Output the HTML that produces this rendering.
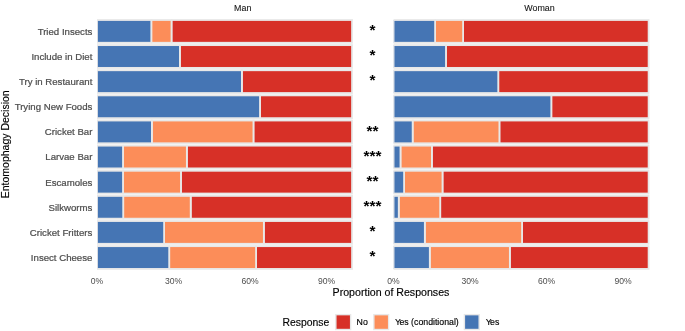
<!DOCTYPE html><html><head><meta charset="utf-8"><title>Entomophagy Decision</title><style>html,body{margin:0;padding:0;background:#fff}svg{display:block}text{font-family:"Liberation Sans",Arial,Helvetica,sans-serif;paint-order:stroke fill;stroke-linejoin:round}</style></head><body>
<svg width="685" height="331" viewBox="0 0 685 331">
<rect width="685" height="331" fill="#fff"/>
<defs><clipPath id="cl"><rect x="97.0" y="0" width="400" height="331"/></clipPath><clipPath id="cr"><rect x="393.55" y="0" width="400" height="331"/></clipPath></defs>
<g clip-path="url(#cl)" stroke="#E8E8E8" stroke-width="1.8">
<rect x="97.0" y="20.0" width="255.05" height="248.92" fill="#FAFAFA" stroke="none"/>
<rect x="171.50" y="20.00" width="180.55" height="22.75" fill="#D73027"/>
<rect x="151.30" y="20.00" width="20.20" height="22.75" fill="#FC8D59"/>
<rect x="97.00" y="20.00" width="54.30" height="22.75" fill="#4575B4"/>
<rect x="179.90" y="45.13" width="172.15" height="22.75" fill="#D73027"/>
<rect x="97.00" y="45.13" width="82.90" height="22.75" fill="#4575B4"/>
<rect x="241.90" y="70.26" width="110.15" height="22.75" fill="#D73027"/>
<rect x="97.00" y="70.26" width="144.90" height="22.75" fill="#4575B4"/>
<rect x="260.00" y="95.39" width="92.05" height="22.75" fill="#D73027"/>
<rect x="97.00" y="95.39" width="163.00" height="22.75" fill="#4575B4"/>
<rect x="253.45" y="120.52" width="98.60" height="22.75" fill="#D73027"/>
<rect x="151.90" y="120.52" width="101.55" height="22.75" fill="#FC8D59"/>
<rect x="97.00" y="120.52" width="54.90" height="22.75" fill="#4575B4"/>
<rect x="186.85" y="145.65" width="165.20" height="22.75" fill="#D73027"/>
<rect x="123.00" y="145.65" width="63.85" height="22.75" fill="#FC8D59"/>
<rect x="97.00" y="145.65" width="26.00" height="22.75" fill="#4575B4"/>
<rect x="180.95" y="170.78" width="171.10" height="22.75" fill="#D73027"/>
<rect x="123.00" y="170.78" width="57.95" height="22.75" fill="#FC8D59"/>
<rect x="97.00" y="170.78" width="26.00" height="22.75" fill="#4575B4"/>
<rect x="190.70" y="195.91" width="161.35" height="22.75" fill="#D73027"/>
<rect x="123.20" y="195.91" width="67.50" height="22.75" fill="#FC8D59"/>
<rect x="97.00" y="195.91" width="26.20" height="22.75" fill="#4575B4"/>
<rect x="263.85" y="221.04" width="88.20" height="22.75" fill="#D73027"/>
<rect x="164.10" y="221.04" width="99.75" height="22.75" fill="#FC8D59"/>
<rect x="97.00" y="221.04" width="67.10" height="22.75" fill="#4575B4"/>
<rect x="256.05" y="246.17" width="96.00" height="22.75" fill="#D73027"/>
<rect x="169.20" y="246.17" width="86.85" height="22.75" fill="#FC8D59"/>
<rect x="97.00" y="246.17" width="72.20" height="22.75" fill="#4575B4"/>
</g>
<g clip-path="url(#cr)" stroke="#E8E8E8" stroke-width="1.8">
<rect x="393.55" y="20.0" width="255.05" height="248.92" fill="#FAFAFA" stroke="none"/>
<rect x="463.10" y="20.00" width="185.50" height="22.75" fill="#D73027"/>
<rect x="435.10" y="20.00" width="28.00" height="22.75" fill="#FC8D59"/>
<rect x="393.55" y="20.00" width="41.55" height="22.75" fill="#4575B4"/>
<rect x="445.96" y="45.13" width="202.64" height="22.75" fill="#D73027"/>
<rect x="393.55" y="45.13" width="52.41" height="22.75" fill="#4575B4"/>
<rect x="498.25" y="70.26" width="150.35" height="22.75" fill="#D73027"/>
<rect x="393.55" y="70.26" width="104.70" height="22.75" fill="#4575B4"/>
<rect x="551.30" y="95.39" width="97.30" height="22.75" fill="#D73027"/>
<rect x="393.55" y="95.39" width="157.75" height="22.75" fill="#4575B4"/>
<rect x="499.40" y="120.52" width="149.20" height="22.75" fill="#D73027"/>
<rect x="412.65" y="120.52" width="86.75" height="22.75" fill="#FC8D59"/>
<rect x="393.55" y="120.52" width="19.10" height="22.75" fill="#4575B4"/>
<rect x="431.90" y="145.65" width="216.70" height="22.75" fill="#D73027"/>
<rect x="400.47" y="145.65" width="31.43" height="22.75" fill="#FC8D59"/>
<rect x="393.55" y="145.65" width="6.92" height="22.75" fill="#4575B4"/>
<rect x="442.50" y="170.78" width="206.10" height="22.75" fill="#D73027"/>
<rect x="404.08" y="170.78" width="38.42" height="22.75" fill="#FC8D59"/>
<rect x="393.55" y="170.78" width="10.53" height="22.75" fill="#4575B4"/>
<rect x="440.20" y="195.91" width="208.40" height="22.75" fill="#D73027"/>
<rect x="398.75" y="195.91" width="41.45" height="22.75" fill="#FC8D59"/>
<rect x="393.55" y="195.91" width="5.20" height="22.75" fill="#4575B4"/>
<rect x="522.05" y="221.04" width="126.55" height="22.75" fill="#D73027"/>
<rect x="424.83" y="221.04" width="97.22" height="22.75" fill="#FC8D59"/>
<rect x="393.55" y="221.04" width="31.28" height="22.75" fill="#4575B4"/>
<rect x="509.85" y="246.17" width="138.75" height="22.75" fill="#D73027"/>
<rect x="429.80" y="246.17" width="80.05" height="22.75" fill="#FC8D59"/>
<rect x="393.55" y="246.17" width="36.25" height="22.75" fill="#4575B4"/>
</g>
<g font-size="9.65" fill="#4D4D4D" stroke="#4D4D4D" stroke-width="0.22" text-anchor="end">
<text x="92.4" y="34.73">Tried Insects</text>
<text x="92.4" y="59.85">Include in Diet</text>
<text x="92.4" y="84.98">Try in Restaurant</text>
<text x="92.4" y="110.11">Trying New Foods</text>
<text x="92.4" y="135.24">Cricket Bar</text>
<text x="92.4" y="160.37">Larvae Bar</text>
<text x="92.4" y="185.50">Escamoles</text>
<text x="92.4" y="210.63">Silkworms</text>
<text x="92.4" y="235.76">Cricket Fritters</text>
<text x="92.4" y="260.89">Insect Cheese</text>
</g>
<g font-size="8.6" fill="#4D4D4D" text-anchor="middle">
<text x="97.00" y="283.9">0%</text>
<text x="173.51" y="283.9">30%</text>
<text x="250.03" y="283.9">60%</text>
<text x="326.55" y="283.9">90%</text>
<text x="393.55" y="283.9">0%</text>
<text x="470.06" y="283.9">30%</text>
<text x="546.58" y="283.9">60%</text>
<text x="623.10" y="283.9">90%</text>
</g>
<g font-size="8.9" fill="#1A1A1A" stroke="#1A1A1A" stroke-width="0.12" text-anchor="middle"><text x="242.7" y="11.1">Man</text><text x="539.5" y="11.1">Woman</text></g>
<g font-size="15.4" font-weight="bold" fill="#000" text-anchor="middle">
<text x="372.4" y="35.08">*</text>
<text x="372.4" y="60.20">*</text>
<text x="372.4" y="85.33">*</text>
<text x="372.4" y="135.59">**</text>
<text x="372.4" y="160.72">***</text>
<text x="372.4" y="185.85">**</text>
<text x="372.4" y="210.98">***</text>
<text x="372.4" y="236.11">*</text>
<text x="372.4" y="261.24">*</text>
</g>
<g font-size="10.62" fill="#000" stroke="#000" stroke-width="0.15">
<text x="391" y="295.7" text-anchor="middle">Proportion of Responses</text>
<text transform="translate(9.1,144.3) rotate(-90)" text-anchor="middle" font-size="10.5">Entomophagy Decision</text>
<text x="282.5" y="325.5" font-size="10.4">Response</text>
</g>
<g stroke="#E8E8E8" stroke-width="1.4">
<rect x="335.85" y="314.66" width="14.78" height="14.84" fill="#D73027"/>
<rect x="373.85" y="314.66" width="14.78" height="14.84" fill="#FC8D59"/>
<rect x="464.4" y="314.66" width="14.78" height="14.84" fill="#4575B4"/>
</g>
<g font-size="8.75" fill="#000" stroke="#000" stroke-width="0.15">
<text x="356.6" y="324.9">No</text>
<text x="395.1" y="324.9">Y<tspan dx="-0.7">es (conditional)</tspan></text>
<text x="485.7" y="324.9">Y<tspan dx="-0.7">es</tspan></text>
</g>
</svg></body></html>
